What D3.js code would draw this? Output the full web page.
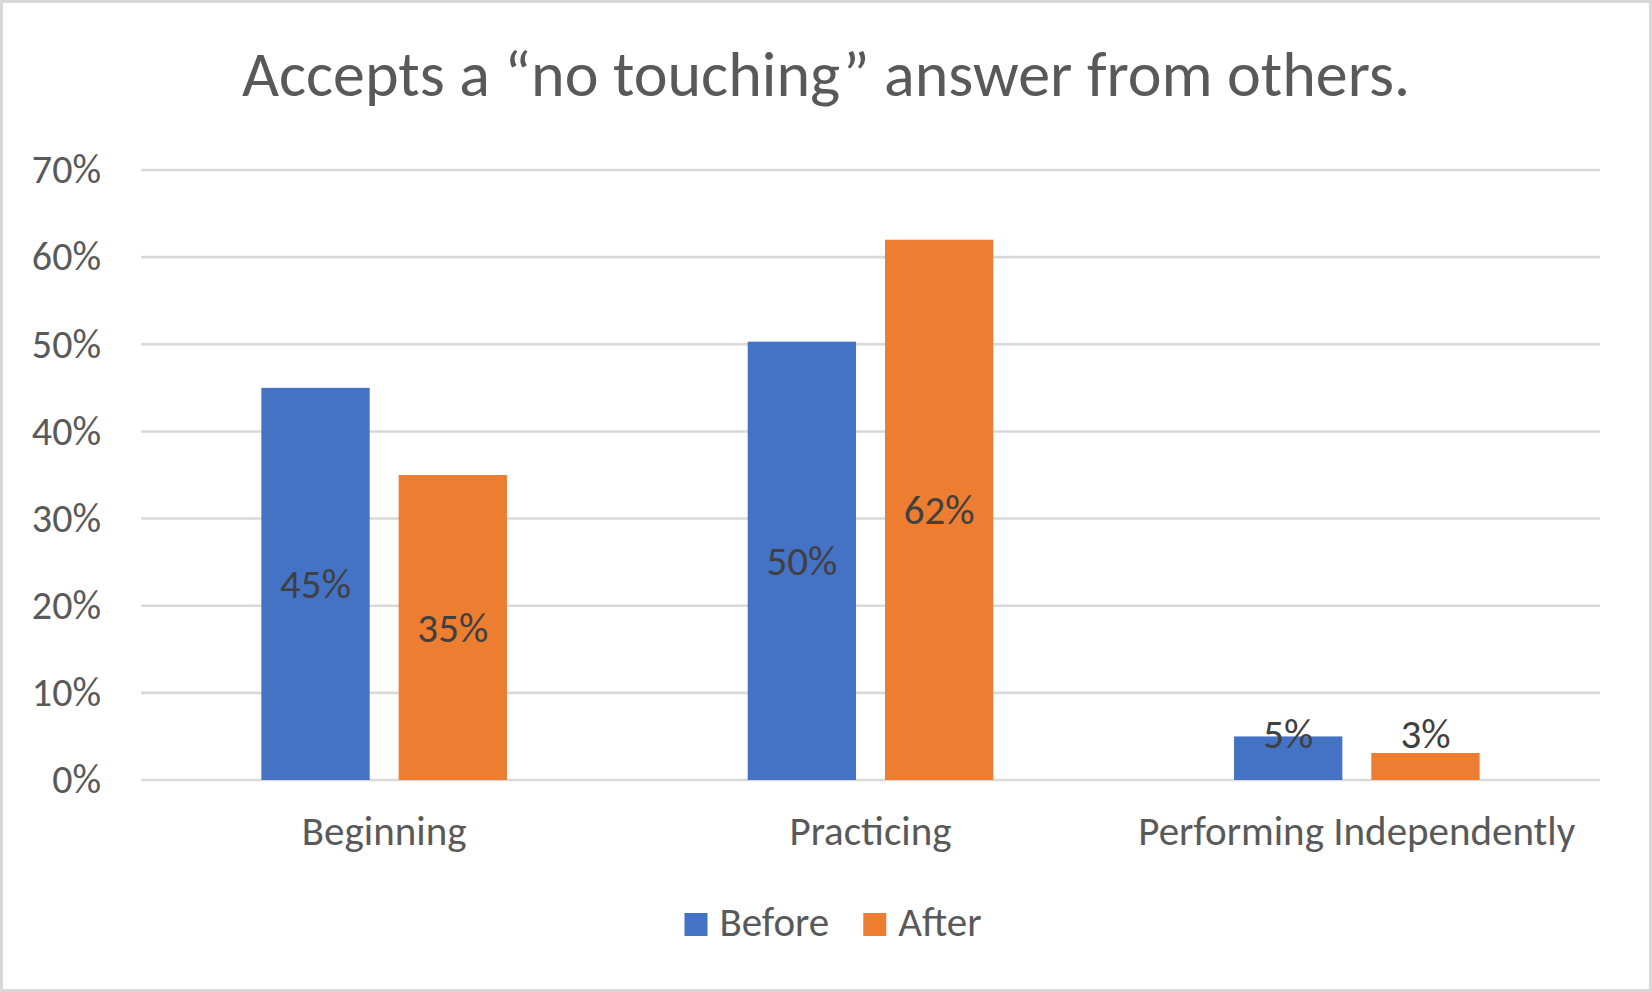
<!DOCTYPE html>
<html>
<head>
<meta charset="utf-8">
<script src="https://cdn.jsdelivr.net/npm/d3@7"></script>
<style>
  html, body { margin: 0; padding: 0; background: #fff; }
  svg text { font-family: Calibri, Carlito, Lato, sans-serif; }
</style>
</head>
<body>
<div id="chart"></div>
<script>
// Accepts a "no touching" answer from others – grouped bar chart (Before / After)

const categories = ["Beginning", "Practicing", "Performing Independently"];
const seriesNames = ["Before", "After"];
const beforeValues = [0.45, 0.503, 0.05];
const afterValues = [0.35, 0.62, 0.031];
const yTicks = [0, 0.1, 0.2, 0.3, 0.4, 0.5, 0.6, 0.7];
const chartTitle = "Accepts a \u201cno touching\u201d answer from others.";

(function () {
  const width = 1652;
  const height = 992;
  const margin = { top: 170, right: 52, bottom: 212, left: 141 };

  const colors = { Before: "#4472C4", After: "#ED7D31" };
  const textColor = "#595959";
  const labelColor = "#404040";
  const gridColor = "#D9D9D9";

  const rows = categories.map((c, i) => ({
    category: c,
    Before: beforeValues[i],
    After: afterValues[i]
  }));

  const svg = d3.select("#chart")
    .append("svg")
    .attr("width", width)
    .attr("height", height);

  // background + outer border
  svg.append("rect")
    .attr("x", 1.5)
    .attr("y", 1.5)
    .attr("width", width - 3)
    .attr("height", height - 3)
    .attr("fill", "#ffffff")
    .attr("stroke", gridColor)
    .attr("stroke-width", 3);

  const x0 = d3.scaleBand()
    .domain(categories)
    .range([margin.left, width - margin.right])
    .paddingInner(0)
    .paddingOuter(0);

  const groupWidth = x0.bandwidth() * 0.505;

  const x1 = d3.scaleBand()
    .domain(seriesNames)
    .range([0, groupWidth])
    .paddingInner(0.211)
    .paddingOuter(0);

  const y = d3.scaleLinear()
    .domain([0, 0.7])
    .range([height - margin.bottom, margin.top]);

  // title
  svg.append("text")
    .attr("x", width / 2)
    .attr("y", 96)
    .attr("text-anchor", "middle")
    .attr("fill", textColor)
    .style("font-size", "64px")
    .text(chartTitle);

  // gridlines
  svg.append("g")
    .selectAll("line")
    .data(yTicks)
    .join("line")
    .attr("x1", margin.left)
    .attr("x2", width - margin.right)
    .attr("y1", d => y(d))
    .attr("y2", d => y(d))
    .attr("stroke", gridColor)
    .attr("stroke-width", 2.6);

  // y axis labels
  const yAxisG = svg.append("g")
    .attr("transform", `translate(${margin.left - 40},0)`)
    .call(d3.axisLeft(y).tickValues(yTicks).tickFormat(d3.format(".0%")).tickSize(0).tickPadding(0));
  yAxisG.select(".domain").remove();
  yAxisG.selectAll("text")
    .attr("fill", textColor)
    .style("font-size", "40px")
    .style("font-family", "Calibri, Carlito, Lato, sans-serif");

  // bars
  const groups = svg.append("g")
    .selectAll("g")
    .data(rows)
    .join("g")
    .attr("transform", d => `translate(${x0(d.category) + (x0.bandwidth() - groupWidth) / 2},0)`);

  groups.selectAll("rect")
    .data(d => seriesNames.map(s => ({ key: s, value: d[s] })))
    .join("rect")
    .attr("x", d => x1(d.key))
    .attr("y", d => y(d.value))
    .attr("width", x1.bandwidth())
    .attr("height", d => y(0) - y(d.value))
    .attr("fill", d => colors[d.key]);

  // data labels (centered, pushed up when the bar is too short)
  const labelClear = 46;
  groups.selectAll("text.value")
    .data(d => seriesNames.map(s => ({ key: s, value: d[s] })))
    .join("text")
    .attr("class", "value")
    .attr("x", d => x1(d.key) + x1.bandwidth() / 2)
    .attr("y", d => Math.min((y(d.value) + y(0)) / 2, y(0) - labelClear))
    .attr("dy", "0.35em")
    .attr("text-anchor", "middle")
    .attr("fill", labelColor)
    .style("font-size", "41px")
    .text(d => d3.format(".0%")(d.value));

  // category labels
  svg.append("g")
    .selectAll("text")
    .data(categories)
    .join("text")
    .attr("x", d => x0(d) + x0.bandwidth() / 2)
    .attr("y", y(0) + 65)
    .attr("text-anchor", "middle")
    .attr("fill", textColor)
    .style("font-size", "41px")
    .text(d => d);

  // legend
  const legend = svg.append("g");
  const sw = 23;
  let cursor = 0;
  seriesNames.forEach((s, i) => {
    const item = legend.append("g").attr("transform", `translate(${cursor},0)`);
    item.append("rect")
      .attr("x", 0)
      .attr("y", -sw)
      .attr("width", sw)
      .attr("height", sw)
      .attr("fill", colors[s]);
    const t = item.append("text")
      .attr("x", sw + 12)
      .attr("y", 0)
      .attr("fill", textColor)
      .style("font-size", "41px")
      .text(s);
    cursor += sw + 12 + t.node().getComputedTextLength() + (i < seriesNames.length - 1 ? 34 : 0);
  });
  legend.attr("transform", `translate(${width / 2 - cursor / 2 + 7},936)`);
})();
</script>
</body>
</html>
